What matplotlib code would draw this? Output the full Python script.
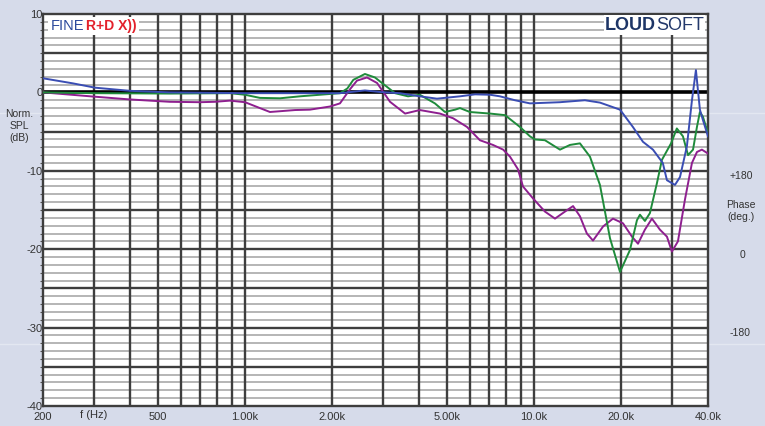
import matplotlib
matplotlib.use("Agg")
import matplotlib.pyplot as plt
from matplotlib.lines import Line2D

plt.rcParams['font.family'] = ['Liberation Sans', 'DejaVu Sans']

# ---------------- data ----------------
blue_f = [200, 254, 303, 400, 550, 1000, 2131, 2600, 2932, 3437, 4027, 4615, 5545, 6250,
          7046, 7622, 8592, 9680, 10490, 12300, 15000, 16910, 19840, 21980, 23820, 25800,
          27900, 28840, 30740, 32000, 33800, 35200, 36330, 37500, 38400, 40000]
blue_db = [1.8, 1.15, 0.6, 0.2, 0.0, -0.1, -0.1, 0.25, 0.05, -0.1, -0.5, -0.8, -0.5, -0.25,
           -0.3, -0.5, -1.0, -1.4, -1.35, -1.25, -1.0, -1.3, -2.2, -4.4, -6.3, -7.3,
           -9.0, -11.2, -11.8, -10.8, -6.9, -1.0, 2.85, -2.2, -3.5, -5.6]

green_f = [200, 303, 550, 887, 1000, 1126, 1322, 1549, 1968, 2131, 2260, 2370, 2600, 2818,
           2932, 3304, 3665, 4027, 4540, 4920, 5333, 5545, 6000, 7046, 7937, 8936, 9680,
           10070, 10910, 12300, 13320, 14420, 15620, 16910, 18320, 19840, 21480, 22710,
           23260, 24200, 25180, 26620, 27710, 29800, 31200, 32760, 34120, 35500, 36630,
           37500, 38410, 40000]
green_db = [0.0, -0.1, -0.15, -0.1, -0.3, -0.7, -0.75, -0.5, -0.2, -0.1, 0.5, 1.6, 2.35, 1.9,
            1.4, -0.1, -0.5, -0.3, -1.4, -2.5, -2.2, -2.0, -2.5, -2.7, -2.9, -4.4, -5.6,
            -6.0, -6.1, -7.3, -6.7, -6.5, -8.2, -11.8, -18.6, -22.9, -20.1, -16.3,
            -15.6, -16.4, -15.4, -11.6, -8.6, -6.5, -4.6, -5.6, -8.0, -7.3, -4.4,
            -2.5, -3.1, -5.2]

purple_f = [200, 303, 400, 550, 698, 787, 887, 1000, 1126, 1220, 1322, 1490, 1678, 1968,
            2131, 2308, 2440, 2643, 2864, 3176, 3580, 4027, 4727, 5250, 5860, 6500, 7210,
            7820, 8260, 8800, 9160, 9910, 10910, 11820, 12800, 13650, 14420, 15240, 16000,
            17340, 18760, 20320, 21830, 22900, 24200, 25590, 27260, 28840, 30000, 31480,
            33280, 35200, 36630, 38100, 40000]
purple_db = [0.0, -0.55, -0.9, -1.2, -1.25, -1.2, -1.05, -1.25, -2.0, -2.5, -2.4, -2.25, -2.2, -1.8,
             -1.4, 0.4, 1.5, 1.9, 1.2, -1.2, -2.7, -2.25, -2.7, -3.3, -4.4, -6.1, -6.7,
             -7.3, -8.2, -9.8, -12.0, -13.5, -15.2, -16.1, -15.2, -14.5, -15.8, -18.0, -18.9,
             -17.1, -16.1, -16.7, -18.4, -19.3, -17.5, -16.1, -17.5, -18.4, -20.3, -19.0,
             -13.7, -9.0, -7.6, -7.3, -7.8]

x_ticks = [200, 500, 1000, 2000, 5000, 10000, 20000, 40000]
x_ticklabels = ['200', '500', '1.00k', '2.00k', '5.00k', '10.0k', '20.0k', '40.0k']
x_grid = [300, 400, 500, 600, 700, 800, 900, 1000, 2000, 3000, 4000, 5000, 6000, 7000,
          8000, 9000, 10000, 20000, 30000]
y_ticks = [10, 0, -10, -20, -30, -40]
phase_labels = ['+180', '0', '-180']

# ---------------- figure ----------------
W, H = 765, 426
bg = '#d6dbea'
fig = plt.figure(figsize=(W / 100, H / 100), dpi=100, facecolor=bg)

def fx(px):
    return px / W

def fy(py):
    return 1 - py / H

# faint artifact lines in margin
for yy in (113, 344):
    fig.add_artist(Line2D([0, 1], [fy(yy), fy(yy)], color='#e3e7f1', lw=1.0, zorder=-5))

L, R, T, B = 43, 708, 14, 406
ax = fig.add_axes([fx(L), fy(B), fx(R - L), (B - T) / H])
ax.set_facecolor('white')
ax.set_xscale('log')
ax.set_xlim(200, 40000)
ax.set_ylim(-40, 10)

# grid
for d in range(-39, 10):
    if d % 5 != 0:
        ax.axhline(d, color='#a9a9a9', lw=1.2, zorder=1)
for d in range(-35, 10, 5):
    if d != 0:
        ax.axhline(d, color='#3e3e3e', lw=1.7, zorder=1.5)
for f in x_grid:
    ax.axvline(f, color='#3e3e3e', lw=1.7, zorder=1.6)
ax.axhline(0, color='black', lw=2.6, zorder=2)

for s in ax.spines.values():
    s.set_color('#3e3e3e')
    s.set_linewidth(1.7)

# curves
ax.plot(blue_f, blue_db, color='#3a4db3', lw=1.4, zorder=5)
ax.plot(green_f, green_db, color='#1f8b3b', lw=1.4, zorder=4)
ax.plot(purple_f, purple_db, color='#8e1f8f', lw=1.4, zorder=3)

# ticks
ax.set_xticks(x_ticks)
ax.set_xticklabels(x_ticklabels)
ax.xaxis.set_minor_locator(matplotlib.ticker.NullLocator())
ax.tick_params(axis='x', length=0, pad=4, labelsize=8, colors='#333333')
ax.set_yticks(y_ticks)
ax.set_yticklabels([str(v) for v in y_ticks])
ax.set_yticks(range(-40, 11), minor=True)
ax.tick_params(axis='y', which='major', length=0, pad=0.5, labelsize=8, colors='#333333')
ax.tick_params(axis='y', which='minor', length=2, width=0.8, color='#555555')

# "f (Hz)" label at 300 Hz, aligned with tick labels
fig.text(fx(L + (R - L) * 0.0765), fy(415), 'f (Hz)', ha='center', va='center',
         fontsize=8, color='#333333')

# left label
fig.text(fx(19), fy(126), 'Norm.\nSPL\n(dB)', ha='center', va='center', fontsize=7.5,
         color='#333333', linespacing=1.3)

# right phase labels
fig.text(fx(741), fy(176), phase_labels[0], ha='center', va='center', fontsize=7.5, color='#333333')
fig.text(fx(741), fy(211), 'Phase\n(deg.)', ha='center', va='center', fontsize=7.5,
         color='#333333', linespacing=1.3)
fig.text(fx(742), fy(255), phase_labels[1], ha='center', va='center', fontsize=7.5, color='#333333')
fig.text(fx(740), fy(333), phase_labels[2], ha='center', va='center', fontsize=7.5, color='#333333')

# logos
fig.text(fx(84), fy(26), 'FINE', ha='right', va='center', fontsize=10.5, color='#2c4a9c',
         bbox=dict(facecolor='white', edgecolor='none', pad=1.5), zorder=10)
fig.text(fx(86), fy(26), 'R+D X))', ha='left', va='center', fontsize=10, color='#e3212b',
         fontweight='bold', bbox=dict(facecolor='white', edgecolor='none', pad=1.5), zorder=10)
fig.text(fx(656), fy(25), 'LOUD', ha='right', va='center', fontsize=13, color='#1d3566',
         fontweight='bold', bbox=dict(facecolor='white', edgecolor='none', pad=1.0), zorder=10)
fig.text(fx(656), fy(25), 'SOFT', ha='left', va='center', fontsize=13, color='#24396b',
         bbox=dict(facecolor='white', edgecolor='none', pad=1.0), zorder=10)

fig.savefig('out.png', dpi=100, facecolor=bg)
